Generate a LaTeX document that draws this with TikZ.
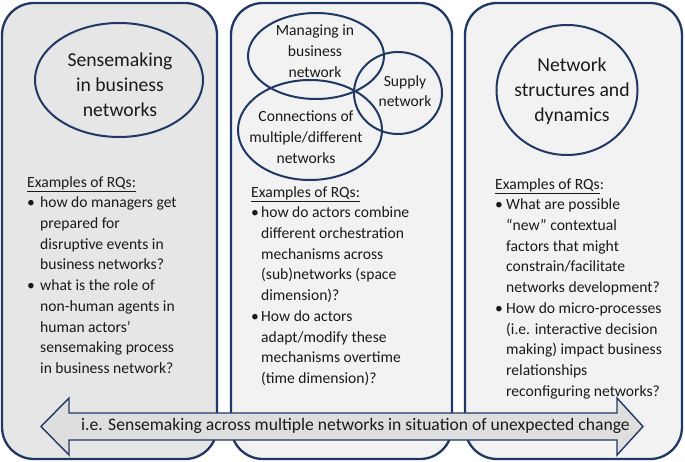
\documentclass[tikz,border=0pt]{standalone}
\usepackage{fontspec}
\setmainfont{Carlito}
\usepackage{array}
\usetikzlibrary{shapes.geometric}
\definecolor{navy}{HTML}{1F3864}
\definecolor{boxA}{HTML}{E6E6E6}
\definecolor{boxB}{HTML}{F2F2F2}
\definecolor{arrowfill}{HTML}{DEDEDE}
\definecolor{ink}{HTML}{1A1A1A}
\newcommand{\bodyfont}{\fontsize{15.6}{20.7}\selectfont}
\newcommand{\titlefont}{\fontsize{19.7}{25}\selectfont}
\newcommand{\arrowfont}{\fontsize{17.6}{21}\selectfont}
\begin{document}
\begin{tikzpicture}[x=1pt,y=-1pt,
  panel/.style={draw=navy, line width=2.3pt, rounded corners=32pt},
  bubble/.style={draw=navy, line width=2pt, ellipse, inner sep=0pt},
  rq/.style={inner sep=0pt, font=\bodyfont, text=ink, anchor=north west},
  ttl/.style={inner sep=0pt, align=center, font=\titlefont, text=ink},
  sub/.style={inner sep=0pt, align=center, font=\bodyfont, text=ink}]
\useasboundingbox (0,0) rectangle (685,462);
% panels
\draw[panel, fill=boxA] (2,3) rectangle (217,459);
\draw[panel, fill=boxB] (231,3) rectangle (452,459);
\draw[panel, fill=boxB] (465,3) rectangle (682,459);
% double arrow
\draw[draw=navy, line width=1.4pt, fill=arrowfill, line join=miter]
  (41,426.5) -- (69,398) -- (69,413) -- (617,413) -- (617,398) -- (643,426.5)
  -- (617,455) -- (617,440) -- (69,440) -- (69,455) -- cycle;
\node[inner sep=0pt, font=\arrowfont, text=ink] (arrowtext) at (355.5,426)
  {i.e. Sensemaking across multiple networks in situation of unexpected change};
% left bubble
\node[bubble, minimum width=168pt, minimum height=114pt] (eA) at (119,80) {};
\node[ttl] (tA) at (120,85) {Sensemaking\\in business\\networks};
% middle bubbles
\node[bubble, minimum width=136pt, minimum height=86pt] (eB1) at (316,56) {};
\node[bubble, minimum width=144pt, minimum height=100pt] (eB2) at (310,130) {};
\node[bubble, minimum width=88pt, minimum height=82pt] (eB3) at (398,93) {};
\node[sub] (tB1) at (315,51) {Managing in\\business\\network};
\node[sub] (tB3) at (405,91) {Supply\\network};
\node[sub] (tB2) at (306,137) {Connections of\\multiple/different\\networks};
% right bubble
\node[bubble, minimum width=141pt, minimum height=130pt] (eC) at (567,90) {};
\node[ttl] (tC) at (572,91) {Network\\structures and\\dynamics};
% research questions
\node[rq] (rqA) at (27,172.5) {\begin{tabular}{@{}p{13pt}@{}l@{}}
\multicolumn{2}{@{}l@{}}{\underline{Examples of RQs:}}\\
• & how do managers get\\
  & prepared for\\
  & disruptive events in\\
  & business networks?\\
• & what is the role of\\
  & non-human agents in\\
  & human actors’\\
  & sensemaking process\\
  & in business network?
\end{tabular}};
\node[rq] (rqB) at (251,182.5) {\begin{tabular}{@{}p{10pt}@{}l@{}}
\multicolumn{2}{@{}l@{}}{\underline{Examples of RQs:}}\\
• & how do actors combine\\
  & different orchestration\\
  & mechanisms across\\
  & (sub)networks (space\\
  & dimension)?\\
• & How do actors\\
  & adapt/modify these\\
  & mechanisms overtime\\
  & (time dimension)?
\end{tabular}};
\node[rq] (rqC) at (495,174.5) {\begin{tabular}{@{}p{11pt}@{}l@{}}
\multicolumn{2}{@{}l@{}}{\underline{Examples of RQs}:}\\
• & What are possible\\
  & “new” contextual\\
  & factors that might\\
  & constrain/facilitate\\
  & networks development?\\
• & How do micro-processes\\
  & (i.e. interactive decision\\
  & making) impact business\\
  & relationships\\
  & reconfiguring networks?
\end{tabular}};
\end{tikzpicture}
\end{document}
